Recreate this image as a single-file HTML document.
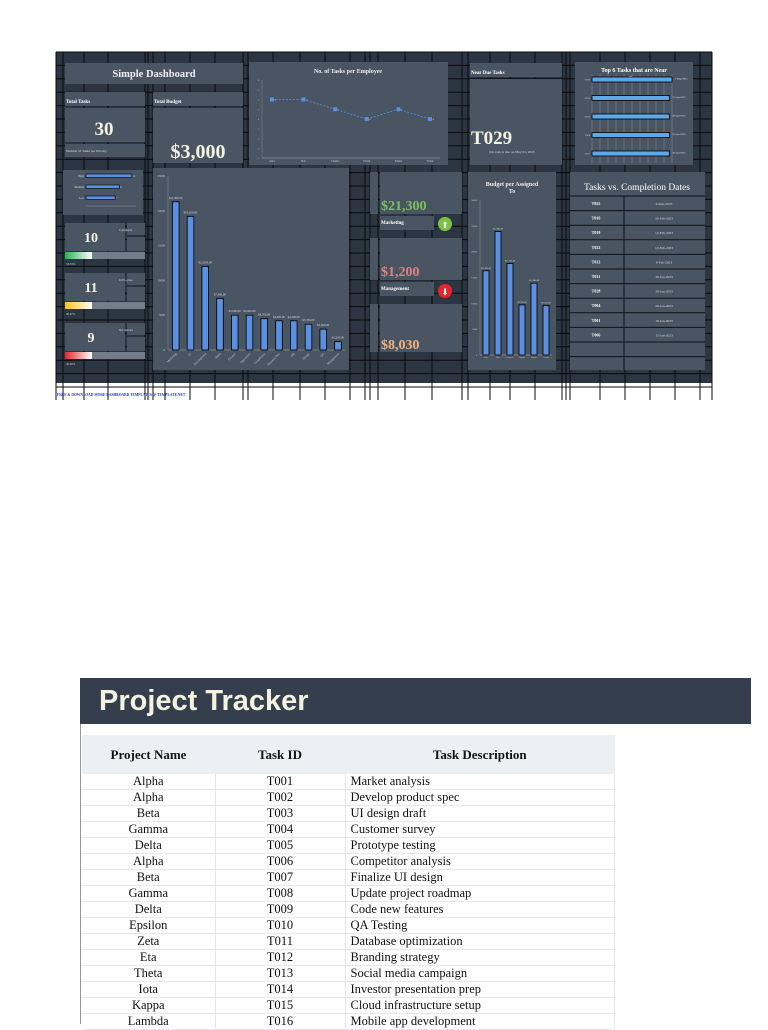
<!DOCTYPE html>
<html><head><meta charset="utf-8"><style>
body{margin:0;width:768px;height:1024px;background:#fff;overflow:hidden;font-family:"Liberation Serif",serif;position:relative}
svg text{font-family:"Liberation Serif",serif}
#pt{position:absolute;left:80px;top:678px;width:671px;height:46px;background:#353e4c;color:#f3f1df;font-family:"Liberation Sans",sans-serif;font-weight:bold;font-size:29px;line-height:46px;padding-left:19px;box-sizing:border-box}
#tbl{position:absolute;left:82px;top:735px;width:533px;border-collapse:collapse;font-size:12.5px;color:#111}
#tbl th{background:#eceff3;height:37px;font-weight:bold;font-size:13px}
#tbl td{height:15px;border-right:1px solid #e3e8ee;border-bottom:1px solid #e3e8ee;padding:0;line-height:15px}
#tbl td:nth-child(1),#tbl td:nth-child(2){text-align:center}
#tbl td:nth-child(3){padding-left:5px}
#lline{position:absolute;left:80px;top:724px;width:1px;height:300px;background:#999}
</style></head><body>
<svg id="dash" width="768" height="410" style="position:absolute;left:0;top:0">
<rect x="56" y="52" width="656" height="331" fill="#2c3542"/>
<rect x="56" y="383" width="656" height="17" fill="#fff"/>
<g id="grid"></g>
<g id="panels"></g>
<g id="charts"></g>
</svg>
<div id="pt">Project Tracker</div>
<div id="lline"></div>
<table id="tbl">
<colgroup><col style="width:133px"><col style="width:130px"><col></colgroup>
<tr><th>Project Name</th><th>Task ID</th><th>Task Description</th></tr>
<tbody id="tb"></tbody>
</table>
<script>
const NS="http://www.w3.org/2000/svg";
function mk(parent,tag,attrs,txt){const e=document.createElementNS(NS,tag);for(const k in attrs)e.setAttribute(k,attrs[k]);if(txt!==undefined)e.textContent=txt;parent.appendChild(e);return e;}
const grid=document.getElementById('grid');
const vx=[56,63,84,108,145,148,153,165,190,215,243,248,273,300,325,350,365,370,378,405,432,462,468,490,510,535,562,566,570,600,625,650,675,700,712];
for(const x of vx)mk(grid,'line',{x1:x,y1:52,x2:x,y2:400,stroke:'#0a0a0a','stroke-width':1});
for(let y=52;y<=400;y+=13.4)mk(grid,'line',{x1:56,y1:y,x2:712,y2:y,stroke:'#0a0a0a','stroke-width':1});
const P=document.getElementById('panels');
const pc='#4a5563';
function panel(x,y,w,h,name){const r=mk(P,'rect',{x,y,width:w,height:h,fill:pc});

return r;}
function txt(x,y,s,size,fill,opt){const t=mk(P,'text',Object.assign({x,y,'font-size':size,fill:fill||'#eee'},opt||{}),s);return t;}
panel(65,63,178,21,'title-panel');txt(154,77,'Simple Dashboard',10.5,'#f0f0f0',{'text-anchor':'middle','font-weight':'bold'});
panel(65,92,80,14,'total-tasks-header');txt(66,103,'Total Tasks',5,'#fff',{'font-weight':'bold'});
panel(65,108,80,34,'total-tasks-card');txt(104,135,'30',19,'#f3f1df',{'text-anchor':'middle','font-weight':'bold'});
panel(65,144,80,13,'tasks-priority-label');txt(66,152,'Number of Tasks per Priority',3.5,'#ddd');
panel(153,92,90,14,'total-budget-header');txt(154,103,'Total Budget',5,'#fff',{'font-weight':'bold'});
panel(153,108,90,55,'total-budget-card');txt(198,158,'$3,000',20,'#f3f1df',{'text-anchor':'middle','font-weight':'bold'});
panel(249,62,199,103,'tasks-per-employee-chart');txt(348,73,'No. of Tasks per Employee',6,'#eee',{'text-anchor':'middle','font-weight':'bold'});
panel(470,63,92,14,'near-due-header');txt(471,74,'Near Due Tasks',5,'#fff',{'font-weight':'bold'});
panel(470,79,92,86,'near-due-card');txt(471,144,'T029',19,'#f3f1df',{'font-weight':'bold'});
txt(512,153,'this task is due on May 01, 2023',3.5,'#ddd',{'text-anchor':'middle'});
panel(575,62,118,103,'top-tasks-chart');
txt(634,72,'Top 6 Tasks that are Near',6,'#fff',{'text-anchor':'middle','font-family':'Liberation Sans','font-weight':'bold'});
txt(634,80,'Due',6,'#fff',{'text-anchor':'middle','font-family':'Liberation Sans','font-weight':'bold'});
panel(63,170,80,45,'priority-chart');
const stV=['10','11','9'],stL=['Completed','In Progress','Not Started'],stC=['#2fae4e','#f5c518','#e8232a'],stP=['33.33%','36.67%','30.00%'];
stV.forEach((v,i)=>{const y=223+i*50;
panel(65,y,60,28,'status-card-'+i);txt(91,y+19,v,14,'#f3f1df',{'text-anchor':'middle','font-weight':'bold'});
panel(127,y,18,12,'status-label-'+i);txt(119,y+8,stL[i],3,'#ddd');
panel(127,y+14,18,14,'status-desc-'+i);
mk(P,'rect',{x:65,y:y+29,width:80,height:7,fill:'#727d89'});
const g=mk(P,'linearGradient',{id:'g'+i});mk(g,'stop',{offset:0,'stop-color':stC[i]});mk(g,'stop',{offset:1,'stop-color':'#fff'});
mk(P,'rect',{x:65,y:y+29,width:27,height:7,fill:'url(#g'+i+')'});
txt(66,y+42,stP[i],3,'#ddd');
});
panel(153,168,196,202,'budget-by-department-chart');
panel(370,172,8,42,'highest-label-strip');panel(380,172,82,42,'highest-budget-card');txt(381,210,'$21,300',14,'#7cc05a',{'font-weight':'bold'});
panel(380,216,54,14,'highest-dept');txt(381,224,'Marketing',5,'#fff',{'font-weight':'bold'});
mk(P,'circle',{cx:445,cy:224,r:7,fill:'#7cc242'});txt(445,228,'⬆',9,'#fff',{'text-anchor':'middle'});
panel(370,238,8,42,'lowest-label-strip');panel(380,238,82,42,'lowest-budget-card');txt(381,276,'$1,200',14,'#e58080',{'font-weight':'bold'});
panel(380,282,54,14,'lowest-dept');txt(381,290,'Management',5,'#fff',{'font-weight':'bold'});
mk(P,'circle',{cx:445,cy:291,r:7,fill:'#e8232a'});txt(445,295,'⬇',9,'#fff',{'text-anchor':'middle'});
panel(370,304,8,48,'avg-label-strip');panel(380,304,82,48,'avg-budget-card');txt(381,349,'$8,030',14,'#f0b37e',{'font-weight':'bold'});
panel(468,172,88,198,'budget-per-assigned-chart');
txt(512,186,'Budget per Assigned',6,'#eee',{'text-anchor':'middle','font-weight':'bold'});txt(512,193,'To',6,'#eee',{'text-anchor':'middle','font-weight':'bold'});
panel(570,172,135,198,'completion-table');txt(637,190,'Tasks vs. Completion Dates',9.5,'#fff',{'text-anchor':'middle'});
const cT=['T025','T016','T019','T022','T013','T011','T028','T004','T001','T006'];
const cD=['6-Mar-2023','28-Feb-2023','14-Feb-2023','10-Feb-2023','8-Feb-2023','30-Jan-2023','29-Jan-2023','20-Jan-2023','18-Jan-2023','15-Jan-2023'];
for(let i=0;i<12;i++){const y=196+i*14.6;mk(P,'line',{x1:570,y1:y,x2:705,y2:y,stroke:'#111'});}
mk(P,'line',{x1:624,y1:196,x2:624,y2:370,stroke:'#111'});
cT.forEach((t,i)=>{const y=205+i*14.6;txt(596,y,t,4,'#fff',{'text-anchor':'middle','font-weight':'bold'});txt(664,y,cD[i],3.5,'#ddd',{'text-anchor':'middle'});});
txt(57,396,'FREE & DOWNLOAD MORE DASHBOARD TEMPLATES @ TEMPLATE.NET',3.6,'#2233cc',{'font-weight':'bold'});
</script>
<script>
const empNames=['Alice','Bob','Charlie','David','Emma','Frank'];
const empTasks=[6,6,5,4,5,4];
const deptNames=['Marketing','IT','Development','R&D','Finance','Operations','Compliance','Business Dev','HR','Design','QA','Management'];
const deptBudget=[21300,19200,12000,7400,5000,5000,4500,4200,4200,3700,3000,1200];
const assignNames=['Alice','Bob','Charlie','David','Emma','Frank'];
const assignBudget=[16300,23900,17700,9700,13900,9550];
const prioNames=['High','Medium','Low'];
const prioCounts=[11,8,7];
const topTasks=['T029','T026','T015','T008','T017'];
const topDays=[60,58,58,58,58];
const topDates=['1-May-2023','22-Apr-2023','20-Apr-2023','15-Apr-2023','10-Apr-2023'];
const C=document.getElementById('charts');
const fmt=v=>'$'+v.toLocaleString('en-US')+'.00';
(function(){const x0=262,x1=440,y0=158,y1=80,max=8;
const xs=i=>x0+10+i*(x1-x0-20)/(empNames.length-1),ys=v=>y0-(y0-y1)*v/max;
mk(C,'line',{x1:x0,y1:y0,x2:x1,y2:y0,stroke:'#aaa','stroke-width':0.6});mk(C,'line',{x1:x0,y1:y0,x2:x0,y2:y1,stroke:'#888','stroke-width':0.4});
for(let t=0;t<=max;t++)mk(C,'text',{x:x0-3,y:ys(t)+1,'font-size':2.5,fill:'#ccc','text-anchor':'end'},t);
const pts=empTasks.map((v,i)=>xs(i)+','+ys(v)).join(' ');
const pl=mk(C,'polyline',{points:pts,fill:'none',stroke:'#5b8fe0','stroke-width':0.8,'stroke-dasharray':'2,1.5'});


empTasks.forEach((v,i)=>{const c=mk(C,'rect',{x:xs(i)-2,y:ys(v)-2,width:4,height:4,fill:'#5b8fe0'});


mk(C,'text',{x:xs(i)+2.5,y:ys(v)+1,'font-size':2.5,fill:'#ddd'},v);
mk(C,'text',{x:xs(i),y:y0+4,'font-size':2.8,fill:'#ccc','text-anchor':'middle'},empNames[i]);});
})();
(function(){const x0=168,x1=345,y0=350,y1=176,max=25000;const n=deptBudget.length,bw=(x1-x0)/n;
const ys=v=>y0-(y0-y1)*v/max;
mk(C,'line',{x1:x0,y1:y0,x2:x1,y2:y0,stroke:'#aaa','stroke-width':0.6});mk(C,'line',{x1:x0,y1:y0,x2:x0,y2:y1,stroke:'#888','stroke-width':0.5});
for(let t=0;t<=max;t+=5000)mk(C,'text',{x:x0-3,y:ys(t)+1,'font-size':3,fill:'#ccc','text-anchor':'end'},t);
deptBudget.forEach((v,i)=>{const x=x0+i*bw+bw*0.3;const r=mk(C,'rect',{x,y:ys(v),width:bw*0.45,height:y0-ys(v),fill:'#5b8fe0',stroke:'#000','stroke-width':0.8});


mk(C,'text',{x:x+bw*0.22,y:ys(v)-3,'font-size':3,fill:'#ddd','text-anchor':'middle'},fmt(v));
mk(C,'text',{x:x+bw*0.3,y:y0+4,'font-size':3,fill:'#ccc','text-anchor':'end',transform:`rotate(-45 ${x+bw*0.3} ${y0+4})`},deptNames[i]);});
})();
(function(){const x0=480,x1=552,y0=355,y1=200,max=30000;const n=assignBudget.length,bw=(x1-x0)/n;const ys=v=>y0-(y0-y1)*v/max;
mk(C,'line',{x1:x0,y1:y0,x2:x1,y2:y0,stroke:'#aaa','stroke-width':0.5});mk(C,'line',{x1:x0,y1:y0,x2:x0,y2:y1,stroke:'#888','stroke-width':0.5});
for(let t=0;t<=max;t+=5000)mk(C,'text',{x:x0-3,y:ys(t)+1,'font-size':2.3,fill:'#ccc','text-anchor':'end'},t);
assignBudget.forEach((v,i)=>{const x=x0+i*bw+bw*0.25;const r=mk(C,'rect',{x,y:ys(v),width:bw*0.5,height:y0-ys(v),fill:'#5b8fe0',stroke:'#000','stroke-width':0.8});


mk(C,'text',{x:x+bw*0.25,y:ys(v)-2,'font-size':2.3,fill:'#ddd','text-anchor':'middle'},fmt(v));
mk(C,'text',{x:x+bw*0.25,y:y0+3,'font-size':2.3,fill:'#ccc','text-anchor':'middle'},assignNames[i]);});
})();
(function(){const x0=86,x1=136,max=12;const xs=v=>x0+(x1-x0)*v/max;
mk(C,'line',{x1:x0,y1:206,x2:x1,y2:206,stroke:'#999','stroke-width':0.4});
prioCounts.forEach((v,i)=>{const y=174+i*11;const r=mk(C,'rect',{x:x0,y,width:xs(v)-x0,height:3.5,fill:'#5b8fe0',stroke:'#000','stroke-width':0.6});


mk(C,'text',{x:x0-2,y:y+3,'font-size':2.8,fill:'#ddd','text-anchor':'end'},prioNames[i]);
mk(C,'text',{x:xs(v)+1,y:y+3,'font-size':2.8,fill:'#ddd'},v);});
})();
(function(){const x0=592,x1=672,max=60;const xs=v=>x0+(x1-x0)*v/max;
for(let i=0;i<=10;i++)mk(C,'line',{x1:x0+i*8,y1:74,x2:x0+i*8,y2:163,stroke:'#bbb','stroke-width':0.3});
topDays.forEach((v,i)=>{const y=77+i*18.5;const r=mk(C,'rect',{x:x0,y,width:xs(v)-x0,height:5,fill:'#5ea8e8',stroke:'#000','stroke-width':0.8});


mk(C,'text',{x:x0-2,y:y+3.5,'font-size':2.5,fill:'#ddd','text-anchor':'end'},topTasks[i]);
mk(C,'text',{x:xs(v)+3,y:y+2.5,'font-size':2.5,fill:'#eee'},topDates[i]);});
})();
const pn=['Alpha','Alpha','Beta','Gamma','Delta','Alpha','Beta','Gamma','Delta','Epsilon','Zeta','Eta','Theta','Iota','Kappa','Lambda'];
const td=['Market analysis','Develop product spec','UI design draft','Customer survey','Prototype testing','Competitor analysis','Finalize UI design','Update project roadmap','Code new features','QA Testing','Database optimization','Branding strategy','Social media campaign','Investor presentation prep','Cloud infrastructure setup','Mobile app development'];
const tb=document.getElementById('tb');
pn.forEach((p,i)=>{const tr=document.createElement('tr');


tr.innerHTML=`<td>${p}</td><td>T${String(i+1).padStart(3,'0')}</td><td>${td[i]}</td>`;tb.appendChild(tr);});
</script>
</body></html>
